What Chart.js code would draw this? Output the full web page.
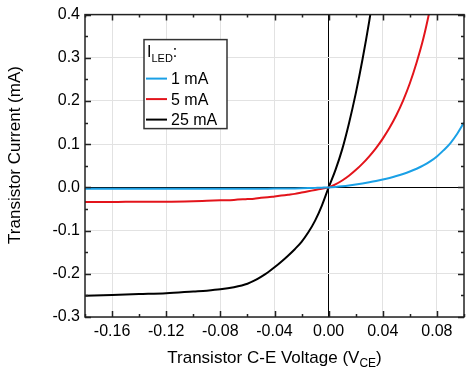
<!DOCTYPE html>
<html>
<head>
<meta charset="utf-8">
<script src="https://cdn.jsdelivr.net/npm/chart.js@4.4.1/dist/chart.umd.min.js"></script>
<style>
    html, body { margin: 0; padding: 0; background: #fff; }
    #wrap { width: 474px; height: 379px; }
</style>
</head>
<body>
<div id="wrap"><canvas id="grafico"></canvas></div>
<script>
// V_CE (V)
const tensao = [-0.18, -0.16, -0.14, -0.12, -0.10, -0.09, -0.08, -0.07, -0.06, -0.055,
                -0.05, -0.045, -0.04, -0.035, -0.03, -0.025, -0.02, -0.015, -0.01, -0.005,
                0, 0.005, 0.01, 0.015, 0.02, 0.025, 0.03, 0.035, 0.04, 0.045,
                0.05, 0.055, 0.06, 0.065, 0.07, 0.075, 0.08, 0.085, 0.09, 0.095, 0.10];
// corrente do transistor (mA)
const corrente1mA = [-0.003, -0.003, -0.003, -0.003, -0.003, -0.003, -0.003, -0.003, -0.003, -0.003,
                     -0.003, -0.0029, -0.0028, -0.0027, -0.0025, -0.0023, -0.002, -0.0016, -0.0011, -0.0006,
                     0, 0.0012, 0.0027, 0.0045, 0.0066, 0.009, 0.0117, 0.0147, 0.0181, 0.0219,
                     0.0262, 0.0311, 0.0367, 0.0432, 0.0509, 0.0602, 0.0717, 0.0862, 0.1027, 0.1242, 0.1502];
const corrente5mA = [-0.034, -0.034, -0.033, -0.033, -0.032, -0.031, -0.030, -0.029, -0.027, -0.026,
                     -0.024, -0.023, -0.021, -0.019, -0.017, -0.015, -0.012, -0.009, -0.006, -0.003,
                     0, 0.007, 0.016, 0.027, 0.040, 0.055, 0.072, 0.091, 0.113, 0.138,
                     0.167, 0.201, 0.241, 0.289, 0.345, 0.415, 0.495, null, null, null, null];
const corrente25mA = [-0.251, -0.249, -0.247, -0.245, -0.241, -0.239, -0.236, -0.231, -0.223, -0.216,
                      -0.207, -0.197, -0.185, -0.172, -0.158, -0.143, -0.126, -0.104, -0.077, -0.042,
                      0, 0.040, 0.088, 0.148, 0.217, 0.296, 0.385, 0.485, null, null,
                      null, null, null, null, null, null, null, null, null, null, null];
const nomes = ['1 mA', '5 mA', '25 mA'];
const cores = ['#1aa0e6', '#e3141b', '#000000'];
const ticksX = [-0.16, -0.12, -0.08, -0.04, 0, 0.04, 0.08];
const ticksY = [-0.3, -0.2, -0.1, 0, 0.1, 0.2, 0.3, 0.4];
const minorX = [-0.18, -0.14, -0.10, -0.06, -0.02, 0.02, 0.06, 0.10];
const minorY = [-0.25, -0.15, -0.05, 0.05, 0.15, 0.25, 0.35];

const FONTE = 'Arial, "Liberation Sans", sans-serif';

function pontos(serie) {
    let res = [];
    for (let i = 0; i < tensao.length; i++) {
        if (serie[i] !== null) res.push({ x: tensao[i], y: serie[i] });
    }
    return res;
}

const series = [corrente1mA, corrente5mA, corrente25mA];

// moldura, ticks internos, titulos dos eixos e legenda
const extras = {
    id: 'extras',
    afterDatasetsDraw(chart) {
        const c = chart.ctx;
        const a = chart.chartArea;
        const sx = chart.scales.x, sy = chart.scales.y;
        c.save();
        c.strokeStyle = '#222';
        c.lineWidth = 1.5;
        c.beginPath();
        ticksX.forEach(v => {
            let p = Math.round(sx.getPixelForValue(v)) + 0.5;
            c.moveTo(p, a.bottom); c.lineTo(p, a.bottom - 6);
            c.moveTo(p, a.top); c.lineTo(p, a.top + 6);
        });
        minorX.forEach(v => {
            let p = Math.round(sx.getPixelForValue(v)) + 0.5;
            c.moveTo(p, a.bottom); c.lineTo(p, a.bottom - 3);
            c.moveTo(p, a.top); c.lineTo(p, a.top + 3);
        });
        ticksY.forEach(v => {
            let p = Math.round(sy.getPixelForValue(v)) + 0.5;
            c.moveTo(a.left, p); c.lineTo(a.left + 6, p);
            c.moveTo(a.right, p); c.lineTo(a.right - 6, p);
        });
        minorY.forEach(v => {
            let p = Math.round(sy.getPixelForValue(v)) + 0.5;
            c.moveTo(a.left, p); c.lineTo(a.left + 3, p);
            c.moveTo(a.right, p); c.lineTo(a.right - 3, p);
        });
        c.stroke();
        c.strokeRect(a.left, a.top, a.right - a.left, a.bottom - a.top);

        // titulo eixo x com subscrito
        c.fillStyle = '#000';
        c.textBaseline = 'alphabetic';
        c.textAlign = 'left';
        const t1 = 'Transistor C-E Voltage (V', t2 = 'CE', t3 = ')';
        c.font = '17px ' + FONTE;
        const w1 = c.measureText(t1).width, w3 = c.measureText(t3).width;
        c.font = '12px ' + FONTE;
        const w2 = c.measureText(t2).width;
        let x0 = (a.left + a.right) / 2 - (w1 + w2 + w3) / 2;
        const base = 363;
        c.font = '17px ' + FONTE;
        c.fillText(t1, x0, base);
        c.font = '12px ' + FONTE;
        c.fillText(t2, x0 + w1, base + 4);
        c.font = '17px ' + FONTE;
        c.fillText(t3, x0 + w1 + w2, base);

        // titulo eixo y
        c.save();
        c.translate(20, 155);
        c.rotate(-Math.PI / 2);
        c.textAlign = 'center';
        c.fillText('Transistor Current (mA)', 0, 0);
        c.restore();

        // legenda
        const lx = a.left + 59, ly = a.top + 25;
        c.fillStyle = '#fff';
        c.fillRect(lx, ly, 83, 89);
        c.strokeStyle = '#333';
        c.lineWidth = 1.5;
        c.strokeRect(lx, ly, 83, 89);
        c.fillStyle = '#000';
        c.font = '16px ' + FONTE;
        c.fillText('I', lx + 3, ly + 17);
        let wi = c.measureText('I').width;
        c.font = '11px ' + FONTE;
        c.fillText('LED', lx + 3 + wi, ly + 22);
        let wl = c.measureText('LED').width;
        c.font = '16px ' + FONTE;
        c.fillText(':', lx + 3 + wi + wl, ly + 17);
        nomes.forEach((n, i) => {
            let yy = ly + 39 + i * 20.5;
            c.strokeStyle = cores[i];
            c.lineWidth = 2;
            c.beginPath();
            c.moveTo(lx + 2, yy);
            c.lineTo(lx + 23, yy);
            c.stroke();
            c.fillStyle = '#000';
            c.textBaseline = 'middle';
            c.fillText(n, lx + 27, yy + 1);
        });
        c.restore();
    }
};

new Chart(document.getElementById('grafico'), {
    type: 'scatter',
    data: {
        datasets: series.map((s, i) => ({
            label: nomes[i],
            data: pontos(s),
            showLine: true,
            borderColor: cores[i],
            backgroundColor: cores[i],
            borderWidth: 2,
            pointRadius: 0,
            cubicInterpolationMode: 'monotone'
        }))
    },
    options: {
        responsive: true,
        maintainAspectRatio: false,
        animation: false,
        layout: { padding: { top: 10, right: 10, left: 0, bottom: 0 } },
        plugins: {
            legend: { display: false },
            tooltip: { enabled: false }
        },
        scales: {
            x: {
                type: 'linear',
                min: -0.18,
                max: 0.1,
                afterBuildTicks: s => { s.ticks = ticksX.map(v => ({ value: v })); },
                afterFit: s => { s.height = 62; },
                border: { display: false },
                grid: {
                    drawTicks: false,
                    color: ctx => (ctx.tick && ctx.tick.value === 0) ? '#000' : '#e2e2e2',
                    lineWidth: 1
                },
                ticks: {
                    padding: 5,
                    color: '#000',
                    font: { size: 16, family: FONTE },
                    callback: v => v.toFixed(2)
                }
            },
            y: {
                type: 'linear',
                min: -0.3,
                max: 0.4,
                afterBuildTicks: s => { s.ticks = ticksY.map(v => ({ value: v })); },
                afterFit: s => { s.width = 85; },
                border: { display: false },
                grid: {
                    drawTicks: false,
                    color: ctx => (ctx.tick && ctx.tick.value === 0) ? '#000' : '#e2e2e2',
                    lineWidth: 1
                },
                ticks: {
                    padding: 5,
                    color: '#000',
                    font: { size: 16, family: FONTE },
                    callback: v => v.toFixed(1)
                }
            }
        }
    },
    plugins: [extras]
});
</script>
</body>
</html>
